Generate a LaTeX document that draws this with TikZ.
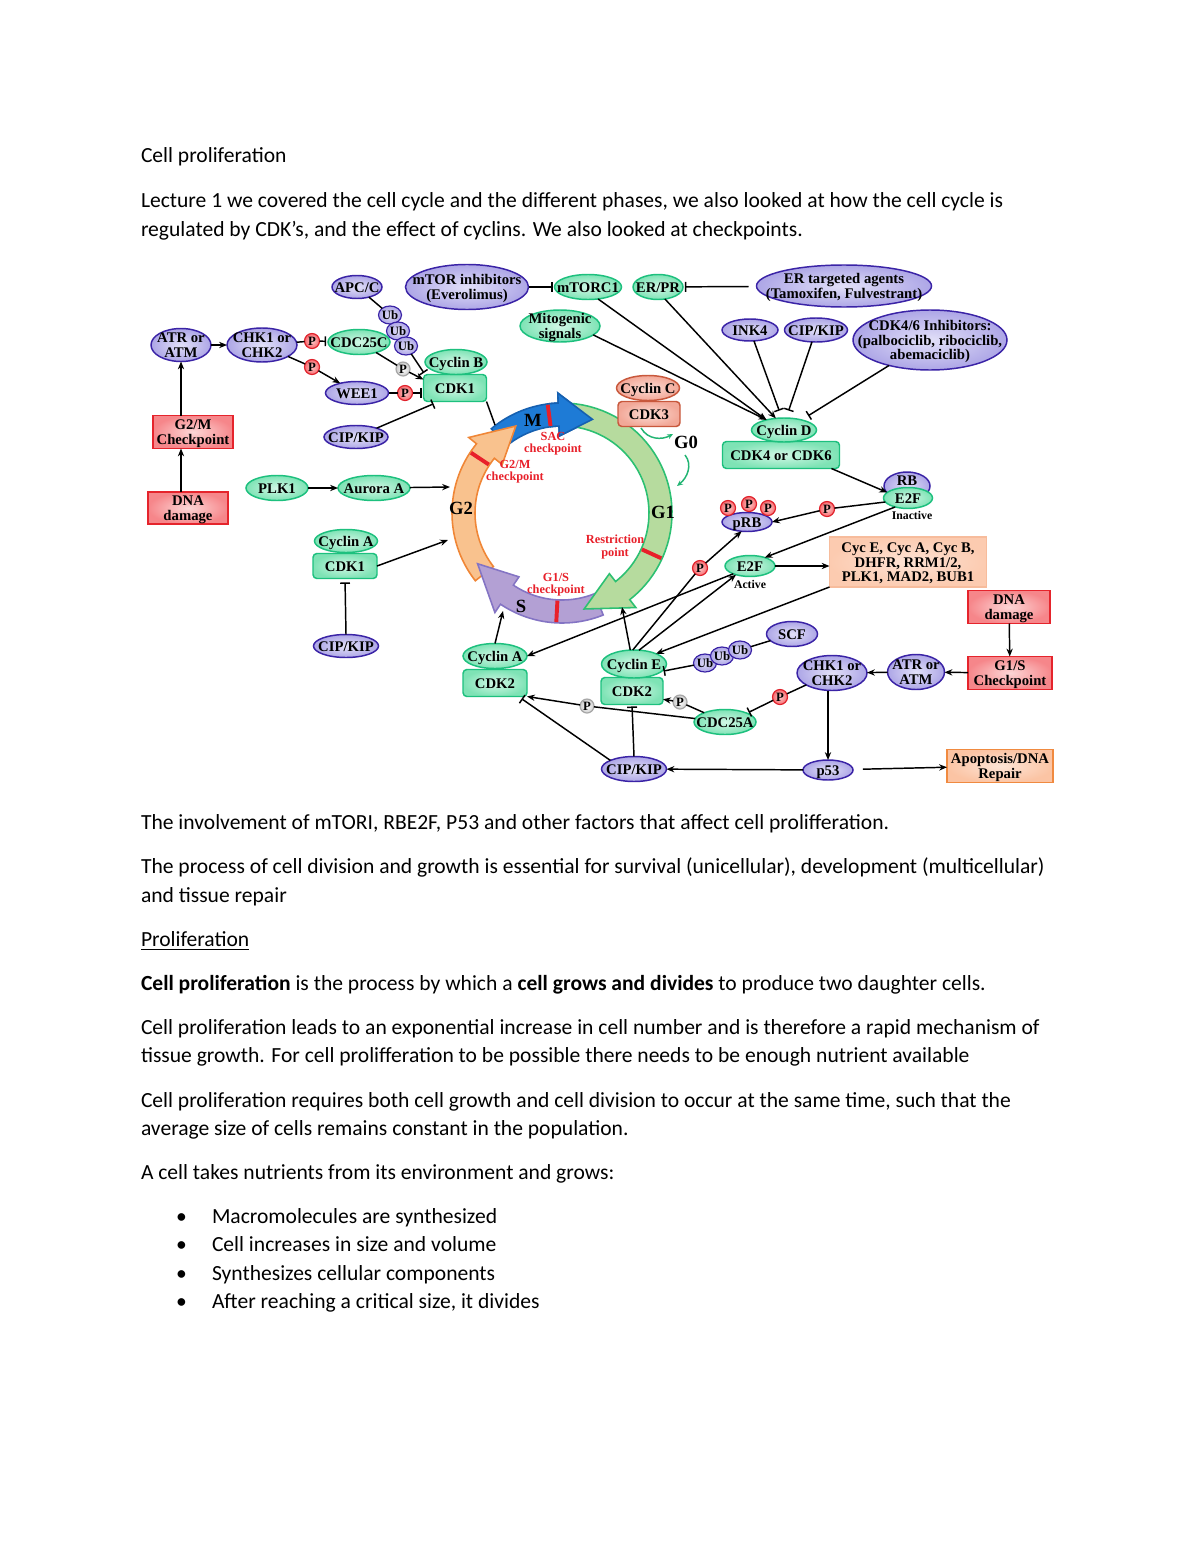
\documentclass[tikz,border=0pt]{standalone}
\usepackage{fontspec}
\setmainfont{Liberation Serif}
\newfontfamily\calfont{Carlito}
\usetikzlibrary{shapes.geometric,arrows.meta}
\definecolor{purB}{HTML}{3A23A6}
\definecolor{purO}{HTML}{ADA6E6}
\definecolor{purI}{HTML}{E2E0F8}
\definecolor{grB}{HTML}{1DC07E}
\definecolor{grO}{HTML}{7EE3B5}
\definecolor{grI}{HTML}{D2F7E6}
\definecolor{rdB}{HTML}{E5242C}
\definecolor{rdO}{HTML}{F6868A}
\definecolor{rdI}{HTML}{FCD6D6}
\definecolor{saB}{HTML}{C8583C}
\definecolor{saO}{HTML}{F2A898}
\definecolor{saI}{HTML}{FCDCD4}
\definecolor{prB}{HTML}{E0202A}
\definecolor{prO}{HTML}{F86C70}
\definecolor{prI}{HTML}{FCC8C8}
\definecolor{cpR}{HTML}{E8202A}
\definecolor{mF}{HTML}{1E7BD6}
\definecolor{mBd}{HTML}{1660B0}
\definecolor{gaF}{HTML}{B6DB9E}
\definecolor{gaB}{HTML}{2CC072}
\definecolor{sF}{HTML}{B3A0D4}
\definecolor{sB}{HTML}{8474C4}
\definecolor{gbF}{HTML}{F9C28E}
\definecolor{gbB}{HTML}{F08636}
\definecolor{bxI}{HTML}{FDE2D4}
\definecolor{bxO}{HTML}{FCCBB0}
\definecolor{bxB}{HTML}{F7BC9C}
\definecolor{apI}{HTML}{FDE4D6}
\definecolor{apO}{HTML}{FBC4A4}
\definecolor{apB}{HTML}{F08A40}
\definecolor{gzG}{HTML}{22B573}
\newcommand{\dfont}{\fontsize{7.5}{7.6}\selectfont\bfseries}
\newcommand{\tx}[2][-2.8pt]{\smash{\makebox[0pt]{\raisebox{#1}{\begin{tabular}{@{}c@{}}#2\end{tabular}}}}}
\def\cx{562}\def\cy{513}\def\ro{110}\def\ri{87}\def\rmid{98.5}\def\hd{10}
\newcommand{\ringseg}[5]{\filldraw[fill=#4, draw=#5, line width=0.8pt, line join=miter]
 plot[domain=#1:#2, samples=40] ({\cx+\ro*cos(\x)},{\cy+\ro*sin(\x)})
 -- ({\cx+(\ro+\hd)*cos(#2)},{\cy+(\ro+\hd)*sin(#2)})
 -- ({\cx+\rmid*cos(#3)},{\cy+\rmid*sin(#3)})
 -- ({\cx+(\ri-\hd)*cos(#2)},{\cy+(\ri-\hd)*sin(#2)})
 -- ({\cx+\ri*cos(#2)},{\cy+\ri*sin(#2)})
 -- plot[domain=#1:#2, samples=40] ({\cx+\ri*cos(#1+#2-\x)},{\cy+\ri*sin(#1+#2-\x)})
 -- cycle;}
\newcommand{\cpbar}[1]{\draw[cpR, line width=2pt] ({\cx+(\ri+0.8)*cos(#1)},{\cy+(\ri+0.8)*sin(#1)}) -- ({\cx+(\ro-0.8)*cos(#1)},{\cy+(\ro-0.8)*sin(#1)});}
\begin{document}
\begin{tikzpicture}[x=0.51pt,y=-0.51pt,
 every node/.style={inner sep=0pt, outer sep=0pt},
 nd/.style={font=\dfont, line width=0.75pt},
 sz/.style 2 args={minimum width=#1*0.51pt, minimum height=#2*0.51pt},
 pu/.style={nd, ellipse, draw=purB, inner color=purI, outer color=purO},
 gr/.style={nd, ellipse, draw=grB, inner color=grI, outer color=grO},
 grb/.style={nd, rectangle, rounded corners=2pt, draw=grB, inner color=grI, outer color=grO},
 rdb/.style={nd, rectangle, draw=rdB, inner color=rdI, outer color=rdO},
 sal/.style={nd, ellipse, draw=saB, inner color=saI, outer color=saO},
 salb/.style={nd, rectangle, rounded corners=2pt, draw=saB, inner color=saI, outer color=saO},
 pr/.style={circle, minimum size=15*0.51pt, draw=prB, inner color=prI, outer color=prO, line width=0.6pt, font=\fontsize{6.5}{7}\selectfont\bfseries},
 pg/.style={circle, minimum size=14*0.51pt, draw=black!35, inner color=white, outer color=black!20, line width=0.6pt, font=\fontsize{6.5}{7}\selectfont\bfseries},
 ub/.style={ellipse, minimum width=16*0.51pt, minimum height=18*0.51pt, draw=purB, inner color=purI, outer color=purO, line width=0.6pt, font=\fontsize{6.5}{7}\selectfont\bfseries},
 ln/.style={line width=0.75pt},
 ar/.style={ln, -{Stealth[length=4pt,width=3.2pt]}},
 inh/.style={ln, -{Bar[width=5pt,line width=0.75pt]}, shorten >=1pt},
 gzar/.style={gzG, line width=0.75pt, -{Stealth[length=3pt,width=2.6pt]}},
 rdtxt/.style={font=\fontsize{6.3}{6.3}\selectfont\bfseries, text=cpR, align=center},
 ph/.style={font=\fontsize{9.5}{10}\selectfont\bfseries},
 sm/.style={font=\fontsize{6}{6.5}\selectfont\bfseries},
 bt/.style={font=\calfont\fontsize{11}{13}\selectfont, anchor=base west}]
\useasboundingbox (0,0) rectangle (1200,1553);
\fill[white] (0,0) rectangle (1200,1553);

% ---------- body text ----------
\node[bt] (t1) at (141,163) {Cell proliferation};
\node[bt] (t2) at (141,208) {Lecture 1 we covered the cell cycle and the different phases, we also looked at how the cell cycle is};
\node[bt] (t3) at (141,236) {regulated by CDK’s, and the effect of cyclins. We also looked at checkpoints.};
\node[bt] (t4) at (141,829) {The involvement of mTORI, RBE2F, P53 and other factors that affect cell prolifferation.};
\node[bt] (t5) at (141,873) {The process of cell division and growth is essential for survival (unicellular), development (multicellular)};
\node[bt] (t6) at (141,902) {and tissue repair};
\node[bt] (t7) at (141,946) {\underline{Proliferation}};
\node[bt] (t8) at (141,990) {\textbf{Cell proliferation} is the process by which a \textbf{cell grows and divides} to produce two daughter cells.};
\node[bt] (t9) at (141,1034) {Cell proliferation leads to an exponential increase in cell number and is therefore a rapid mechanism of};
\node[bt] (t10) at (141,1062) {tissue growth. For cell prolifferation to be possible there needs to be enough nutrient available};
\node[bt] (t11) at (141,1107) {Cell proliferation requires both cell growth and cell division to occur at the same time, such that the};
\node[bt] (t12) at (141,1135) {average size of cells remains constant in the population.};
\node[bt] (t13) at (141,1179) {A cell takes nutrients from its environment and grows:};
\node[bt] (b1) at (176,1223) {•};
\node[bt] (b2) at (176,1251) {•};
\node[bt] (b3) at (176,1280) {•};
\node[bt] (b4) at (176,1308) {•};
\node[bt] (l1) at (212,1223) {Macromolecules are synthesized};
\node[bt] (l2) at (212,1251) {Cell increases in size and volume};
\node[bt] (l3) at (212,1280) {Synthesizes cellular components};
\node[bt] (l4) at (212,1308) {After reaching a critical size, it divides};

% ---------- cell cycle ring ----------
\ringseg{230}{268}{288}{mF}{mBd}
\ringseg{142}{219}{242}{gbF}{gbB}
\ringseg{68}{124}{149}{sF}{sB}
\ringseg{274}{412}{437}{gaF}{gaB}
\begin{scope}
\clip (\cx,\cy) -- ({\cx+150*cos(262)},{\cy+150*sin(262)}) -- ({\cx+150*cos(279)},{\cy+150*sin(279)}) -- ({\cx+150*cos(296)},{\cy+150*sin(296)}) -- cycle;
\ringseg{230}{268}{288}{mF}{mBd}
\end{scope}
\cpbar{262.5}
\cpbar{213.5}
\cpbar{24.5}
\cpbar{93}
\node[ph] (phM) at (533,420) {M};
\node[ph] (phG1) at (663,512) {G1};
\node[ph] (phG2) at (461,508) {G2};
\node[ph] (phS) at (521,606) {S};
\node[ph] (g0) at (686,442) {G0};
\node[rdtxt] (sac) at (553,444) {SAC\\checkpoint};
\node[rdtxt] (g2mc) at (515,472) {G2/M\\checkpoint};
\node[rdtxt] (rp) at (615,547) {Restriction\\point};
\node[rdtxt] (g1sc) at (556,585) {G1/S\\checkpoint};
\coordinate (ringM) at (495,425);
\coordinate (ringA) at (450,487);
\coordinate (ringC) at (448,540);
\coordinate (ringS) at (503,611);
\coordinate (ringG) at (622,607);
\coordinate (g0a) at (641,428);
\coordinate (g0t) at (673,434);
\coordinate (g0b) at (685,455);
\coordinate (g0c) at (677,486);

% ---------- nodes ----------
\node[pu, sz={60}{33}] (atrL) at (181,345) {\tx{ATR or\\ATM}};
\node[pu, sz={70}{34}] (chkL) at (262,345) {\tx{CHK1 or\\CHK2}};
\node[gr, sz={62}{25}] (cdc25c) at (359,342) {\tx{CDC25C}};
\node[pu, sz={63}{23}] (wee1) at (357,393) {\tx{WEE1}};
\node[pu, sz={50}{23}] (apcc) at (357,287) {\tx{APC/C}};
\node[ub] (ubA) at (390,315) {Ub};
\node[ub] (ubB) at (398,331) {Ub};
\node[ub] (ubC) at (406,346) {Ub};
\node[pr] (pA) at (312,341) {P};
\node[pr] (pB) at (312,367) {P};
\node[pr] (pC) at (405,393) {P};
\node[pg] (pgA) at (403,369) {P};
\node[grb, sz={63}{27}] (cdk1T) at (455,388) {\tx{CDK1}};
\node[gr, sz={62}{25}] (cycB) at (456,362) {\tx{Cyclin B}};
\node[pu, sz={64}{23}] (cipT) at (356,437) {\tx{CIP/KIP}};
\node[rdb, sz={80}{33}] (g2m) at (193,432) {\tx{G2/M\\Checkpoint}};
\node[rdb, sz={80}{32}] (dnaL) at (188,508) {\tx{DNA\\damage}};

\node[pu, sz={123}{45}] (mtorI) at (467,287) {\tx{mTOR inhibitors\\(Everolimus)}};
\node[gr, sz={67}{25}] (mtorc1) at (588,287) {\tx{mTORC1}};
\node[gr, sz={50}{25}] (erpr) at (658,287) {\tx{ER/PR}};
\node[pu, sz={175}{42}] (erta) at (844,286) {\tx{ER targeted agents\\(Tamoxifen, Fulvestrant)}};
\node[gr, sz={80}{32}] (mito) at (560,326) {\tx{Mitogenic\\signals}};
\node[pu, sz={56}{22}] (ink4) at (750,330) {\tx{INK4}};
\node[pu, sz={63}{24}] (cipR) at (816,330) {\tx{CIP/KIP}};
\node[pu, sz={154}{60}] (cdk46i) at (930,340) {\tx{CDK4/6 Inhibitors:\\(palbociclib, ribociclib,\\abemaciclib)}};
\node[grb, sz={117}{27}] (cdk46) at (781,455) {\tx{CDK4 or CDK6}};
\node[gr, sz={65}{24}] (cycD) at (784,430) {\tx{Cyclin D}};
\node[salb, sz={62}{25}] (cdk3) at (649,414) {\tx{CDK3}};
\node[sal, sz={63}{25}] (cycC) at (648,388) {\tx{Cyclin C}};

\node[gr, sz={62}{25}] (plk1) at (277,488) {\tx{PLK1}};
\node[gr, sz={72}{25}] (aurA) at (374,488) {\tx{Aurora A}};
\node[grb, sz={64}{25}] (cdk1L) at (345,566) {\tx{CDK1}};
\node[gr, sz={63}{23}] (cycAL) at (346,541) {\tx{Cyclin A}};
\node[pu, sz={65}{23}] (cipL) at (346,646) {\tx{CIP/KIP}};

\node[pu, sz={46}{28}] (rb) at (907,486) {\tx[0.2pt]{RB}};
\node[gr, sz={49}{21}] (e2fI) at (908,498) {\tx{E2F}};
\node[sm] (inact) at (912,515) {Inactive};
\node[pu, sz={50}{19}] (prb) at (747,522) {\tx{pRB}};
\node[pr] (pE) at (728,508) {P};
\node[pr] (pF) at (749,504) {P};
\node[pr] (pG) at (768,508) {P};
\node[pr] (pD) at (827,509) {P};
\node[gr, sz={50}{21}] (e2fA) at (750,566) {\tx{E2F}};
\node[sm] (act) at (750,584) {Active};
\node[nd, rectangle, draw=bxB, inner color=bxI, outer color=bxO, sz={157}{50}] (cycbox) at (908,562) {\tx{Cyc E, Cyc A, Cyc B,\\DHFR, RRM1/2,\\PLK1, MAD2, BUB1}};
\node[pr] (pI) at (700,568) {P};

\node[grb, sz={64}{27}] (cdk2L) at (495,683) {\tx{CDK2}};
\node[gr, sz={64}{25}] (cycA2) at (495,656) {\tx{Cyclin A}};
\node[grb, sz={62}{27}] (cdk2R) at (632,691) {\tx{CDK2}};
\node[gr, sz={65}{28}] (cycE) at (634,664) {\tx{Cyclin E}};
\node[ub] (ubD) at (705,663) {Ub};
\node[ub] (ubE) at (722,656) {Ub};
\node[ub] (ubF) at (740,650) {Ub};
\node[pu, sz={51}{25}] (scf) at (792,634) {\tx{SCF}};
\node[gr, sz={62}{25}] (cdc25a) at (725,722) {\tx{CDC25A}};
\node[pg] (pgB) at (680,702) {P};
\node[pg] (pgC) at (587,706) {P};
\node[pu, sz={65}{25}] (cipB) at (634,769) {\tx{CIP/KIP}};
\node[pu, sz={70}{35}] (chkR) at (832,673) {\tx{CHK1 or\\CHK2}};
\node[pu, sz={57}{35}] (atrR) at (916,672) {\tx{ATR or\\ATM}};
\node[rdb, sz={84}{33}] (g1s) at (1010,673) {\tx{G1/S\\Checkpoint}};
\node[rdb, sz={82}{33}] (dnaR) at (1009,607) {\tx{DNA\\damage}};
\node[pr] (pH) at (780,697) {P};
\node[pu, sz={50}{20}] (p53) at (828,770) {\tx{p53}};
\node[nd, rectangle, draw=apB, inner color=apI, outer color=apO, sz={106}{33}] (apop) at (1000,766) {\tx{Apoptosis/DNA\\Repair}};

% ---------- connectors ----------
\draw[ar] (dnaL.north -| atrL.south) -- (g2m.south -| atrL.south);
\draw[ar] (g2m.north -| atrL.south) -- (atrL.south);
\draw[ar] (atrL) -- (chkL);
\draw[ln] (chkL) -- (pA);
\draw[inh] (pA) -- (cdc25c);
\draw[ln] (chkL) -- (pB);
\draw[ar] (pB) -- (wee1);
\draw[ln] (wee1) -- (pC);
\draw[inh] (pC) -- (cdk1T.west |- pC);
\draw[ln] (apcc) -- (ubA);
\draw[inh] (ubC) -- (cycB.west |- cdk1T.north);
\draw[ln] (cdc25c) -- (pgA);
\draw[ar] (pgA) -- (cdk1T.165);
\draw[inh, shorten >=3pt] (cipT) -- (cdk1T.-140);
\draw[ln] (cdk1T.south east) -- (ringM);

\draw[inh] (mtorI) -- (mtorc1);
\draw[inh, shorten <=4pt] (erta) -- (erpr);
\draw[ar] (mtorc1.-50) -- (cycD.150);
\draw[ar] (mito.-15) -- (cycD.150);
\draw[ar] (erpr.-60) -- (cycD.125);
\draw[inh, shorten >=4pt] (ink4) -- (cycD.100);
\draw[inh, shorten >=4pt] (cipR) -- (cycD.80);
\draw[inh, shorten >=4pt] (cdk46i) -- (cycD.30);
\draw[ar] (cdk46.-15) -- (e2fI.165);
\draw[ln] (e2fI.190) -- (pD);
\draw[ar] (pD) -- (prb.east);
\draw[ar] (e2fI.215) -- (e2fA.30);
\draw[ar] (e2fA.east) -- (cycbox.west |- e2fA.east);
\draw[ar] (cycbox.south west) -- (cycE.25);
\draw[ln] (cycE.95) -- (pI);
\draw[ar] (pI) -- (prb.240);
\draw[ar] (cycE.70) -- (e2fA.212);
\draw[ar] (e2fA.205) -- (cycA2.east);
\draw[ar] (cycE.105) -- (ringG);
\draw[ar] (cycA2.north) -- (ringS);
\draw[gzar] (g0a) .. controls (648,440) and (662,440) .. (g0t);
\draw[gzar] (g0b) .. controls (693,465) and (687,478) .. (g0c);

\draw[ar] (plk1) -- (aurA);
\draw[ar] (aurA) -- (ringA);
\draw[ar] (cdk1L.east) -- (ringC);
\draw[inh, shorten >=2pt] (cipL.north) -- (cdk1L.south);

\draw[ln] (scf) -- (ubF);
\draw[inh] (ubD) -- (cycE.-15);
\draw[ln] (cdc25a) -- (pgB);
\draw[ar] (pgB) -- (cdk2R.-15);
\draw[ln] (cdc25a) -- (pgC);
\draw[ar] (pgC) -- (cdk2L.south east);
\draw[inh] (cipB.north) -- (cdk2R.south);
\draw[inh, shorten >=2pt] (cipB.160) -- (cdk2L.-30);
\draw[ln] (chkR) -- (pH);
\draw[inh] (pH) -- (cdc25a.north east);
\draw[ar] (chkR.south -| p53.north) -- (p53.north);
\draw[ar] (p53) -- (cipB);
\draw[ar, shorten <=5pt] (p53) -- (apop);
\draw[ar] (atrR) -- (chkR);
\draw[ar] (g1s) -- (atrR);
\draw[ar] (dnaR) -- (g1s);
\end{tikzpicture}
\end{document}
